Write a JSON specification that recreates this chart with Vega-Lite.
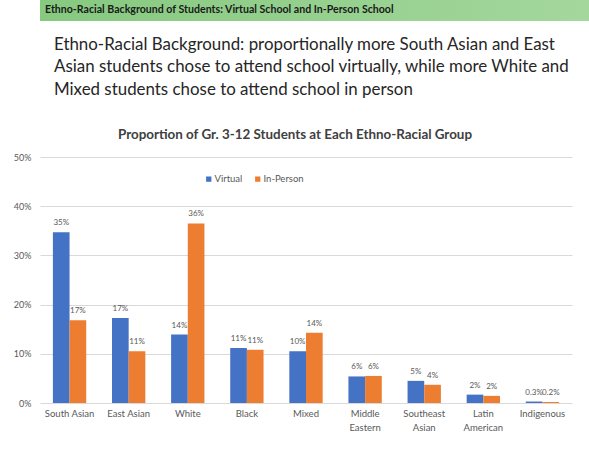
{
  "$schema": "https://vega.github.io/schema/vega-lite/v6.json",
  "padding": 0,
  "background": "white",
  "spacing": 0,
  "align": "none",
  "resolve": {"legend": {"color": "independent"}},
  "config": {"view": {"stroke": null}, "font": "Lato"},
  "vconcat": [
    {
      "width": 589,
      "height": 21,
      "data": {"values": [{"band": "header"}]},
      "mark": {"type": "rect", "color": {"gradient": "linear", "x1": 0, "x2": 1, "y1": 0, "y2": 0, "stops": [{"offset": 0, "color": "#86c97f"}, {"offset": 1, "color": "#a6d89f"}]}},
      "encoding": {},
      "view": {"fill": "#95d08f"},
      "title": {
        "text": "Ethno-Racial Background of Students: Virtual School and In-Person School",
        "anchor": "start",
        "orient": "top",
        "offset": -20.6,
        "baseline": "middle",
        "fontSize": 10.6,
        "fontWeight": "bold",
        "color": "#1a1a1a",
        "font": "Lato",
        "dx": 5
      }
    },
    {
      "width": 589,
      "height": 106,
      "data": {"values": [{"p": 1}]},
      "mark": {"type": "rect", "opacity": 0},
      "encoding": {},
      "title": {
        "text": [
          "Ethno-Racial Background: proportionally more South Asian and East",
          "Asian students chose to attend school virtually, while more White and",
          "Mixed students chose to attend school in person"
        ],
        "anchor": "start",
        "orient": "top",
        "offset": -77.5,
        "baseline": "top",
        "fontSize": 16.9,
        "fontWeight": "normal",
        "lineHeight": 22.5,
        "color": "#262626",
        "font": "Lato",
        "dx": 14
      }
    },
    {
      "width": 532,
      "height": 246,
      "data": {
        "values": [
          {"group": "South Asian", "mode": "Virtual", "pct": 34.7, "label": "35%"},
          {"group": "South Asian", "mode": "In-Person", "pct": 16.8, "label": "17%"},
          {"group": "East Asian", "mode": "Virtual", "pct": 17.3, "label": "17%"},
          {"group": "East Asian", "mode": "In-Person", "pct": 10.5, "label": "11%"},
          {"group": "White", "mode": "Virtual", "pct": 13.9, "label": "14%"},
          {"group": "White", "mode": "In-Person", "pct": 36.5, "label": "36%"},
          {"group": "Black", "mode": "Virtual", "pct": 11.2, "label": "11%"},
          {"group": "Black", "mode": "In-Person", "pct": 10.8, "label": "11%"},
          {"group": "Mixed", "mode": "Virtual", "pct": 10.5, "label": "10%"},
          {"group": "Mixed", "mode": "In-Person", "pct": 14.3, "label": "14%"},
          {"group": "Middle Eastern", "mode": "Virtual", "pct": 5.4, "label": "6%"},
          {"group": "Middle Eastern", "mode": "In-Person", "pct": 5.5, "label": "6%"},
          {"group": "Southeast Asian", "mode": "Virtual", "pct": 4.5, "label": "5%"},
          {"group": "Southeast Asian", "mode": "In-Person", "pct": 3.7, "label": "4%"},
          {"group": "Latin American", "mode": "Virtual", "pct": 1.7, "label": "2%"},
          {"group": "Latin American", "mode": "In-Person", "pct": 1.45, "label": "2%"},
          {"group": "Indigenous", "mode": "Virtual", "pct": 0.3, "label": "0.3%"},
          {"group": "Indigenous", "mode": "In-Person", "pct": 0.2, "label": "0.2%"}
        ]
      },
      "title": {
        "text": "Proportion of Gr. 3-12 Students at Each Ethno-Racial Group",
        "fontSize": 13.4,
        "fontWeight": "bold",
        "color": "#404040",
        "font": "Lato",
        "offset": 12,
        "anchor": "middle",
        "dx": -11
      },
      "encoding": {
        "x": {
          "field": "group",
          "type": "nominal",
          "sort": null,
          "scale": {"paddingInner": 0.436, "paddingOuter": 0.218},
          "axis": {
            "title": null,
            "labelAngle": 0,
            "domain": false,
            "ticks": false,
            "labelPadding": 5,
            "labelFontSize": 9.5,
            "labelColor": "#595959",
            "labelLineHeight": 14,
            "labelExpr": "indexof(['Middle Eastern','Southeast Asian','Latin American'], datum.label) >= 0 ? split(datum.label, ' ') : datum.label"
          }
        },
        "xOffset": {
          "field": "mode",
          "type": "nominal",
          "sort": ["Virtual", "In-Person"],
          "scale": {"paddingInner": 0, "paddingOuter": 0}
        },
        "y": {
          "field": "pct",
          "type": "quantitative",
          "scale": {"domain": [0, 50]},
          "axis": {
            "title": null,
            "values": [0, 10, 20, 30, 40, 50],
            "labelExpr": "datum.value + '%'",
            "domain": false,
            "ticks": false,
            "gridColor": "#d9d9d9",
            "labelPadding": 9,
            "minExtent": 40,
            "labelFontSize": 9,
            "labelColor": "#595959"
          }
        }
      },
      "layer": [
        {
          "mark": {"type": "bar"},
          "encoding": {
            "color": {
              "field": "mode",
              "type": "nominal",
              "scale": {"domain": ["Virtual", "In-Person"], "range": ["#4472c4", "#ed7d31"]},
              "legend": {
                "title": null,
                "orient": "none",
                "legendX": 164,
                "legendY": 17,
                "direction": "horizontal",
                "symbolType": "square",
                "symbolSize": 28,
                "symbolStrokeWidth": 0,
                "labelFontSize": 9.5,
                "labelColor": "#595959",
                "labelOffset": 1,
                "columnPadding": 10
              }
            }
          }
        },
        {
          "mark": {"type": "text", "baseline": "bottom", "dy": -5, "fontSize": 8, "color": "#595959"},
          "encoding": {"text": {"field": "label"}}
        }
      ]
    }
  ]
}
